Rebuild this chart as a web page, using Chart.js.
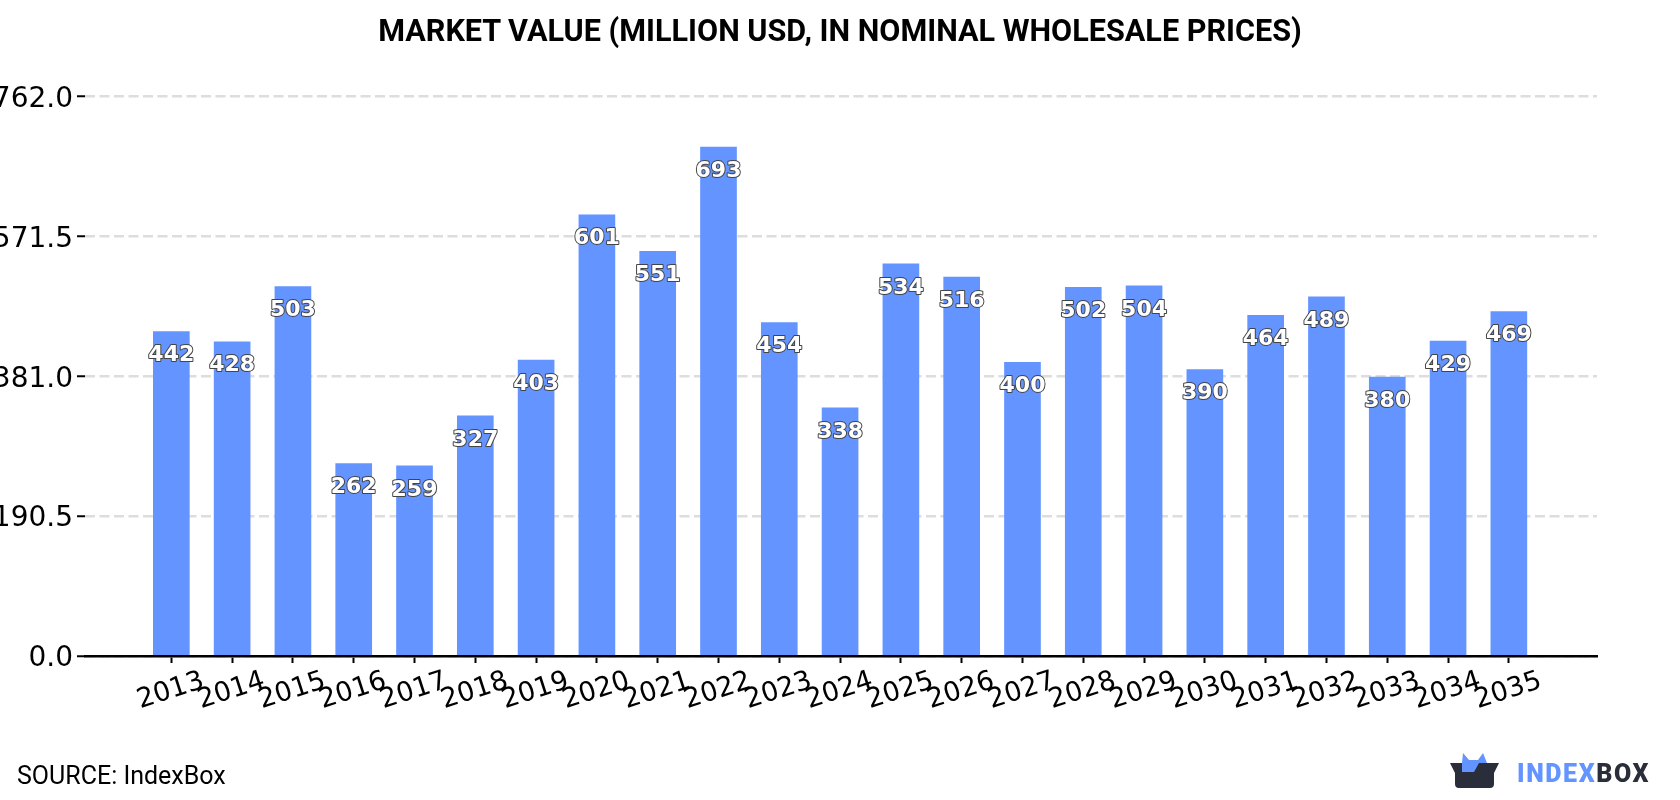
<!DOCTYPE html>
<html>
<head>
<meta charset="utf-8">
<style>
  html, body { margin: 0; padding: 0; background: #fff; }
  #wrap { position: relative; width: 1680px; height: 800px; overflow: hidden; }
  #chart { position: absolute; left: 0; top: 0; }
  #title { position: absolute; left: 0; width: 1680px; top: 12px; text-align: center; font: bold 30.6px Roboto, sans-serif; line-height: 38px; color: #000; }
  #source { position: absolute; left: 17px; top: 761px; font: 25px Roboto, sans-serif; color: #000; line-height: 30px; }
  #logo { position: absolute; left: 1440px; top: 740px; }
</style>
<script src="https://cdn.jsdelivr.net/npm/chart.js@4/dist/chart.umd.min.js"></script>
</head>
<body>
<div id="wrap">
  <canvas id="chart" width="1680" height="800"></canvas>
  <div id="title">MARKET VALUE (MILLION USD, IN NOMINAL WHOLESALE PRICES)</div>
  <div id="source">SOURCE: IndexBox</div>
  <svg id="logo" width="240" height="60" viewBox="0 0 240 60">
    <path d="M10 23 L59 23 L54 33 L54 44 Q54 48 50 48 L19 48 Q15 48 15 44 L15 33 Z" fill="#2a2d3a"/>
    <path d="M22 23 L23 13 L29 20 L38 20 L43 13 L47 23 L39 23 L34 32 L22 32 Z" fill="#6394ff"/>
    <text x="77" y="42" font-family="Roboto, sans-serif" font-weight="900" font-size="25" letter-spacing="1.6"><tspan fill="#6394ff">INDEX</tspan><tspan fill="#2a2d3a">BOX</tspan></text>
  </svg>
</div>
<script>
const years = [2013, 2014, 2015, 2016, 2017, 2018, 2019, 2020, 2021, 2022, 2023, 2024,
               2025, 2026, 2027, 2028, 2029, 2030, 2031, 2032, 2033, 2034, 2035];
const marketValue = [442, 428, 503, 262, 259, 327, 403, 601, 551, 693, 454, 338,
                     534, 516, 400, 502, 504, 390, 464, 489, 380, 429, 469];
const yTicks = [0, 190.5, 381, 571.5, 762];

const BAR_BLUE = '#6394ff';

// Writes each value inside the top of its bar: white digits with a dark outline.
const valueLabels = {
  id: 'valueLabels',
  afterDatasetsDraw(chart) {
    const { ctx } = chart;
    const meta = chart.getDatasetMeta(0);
    ctx.save();
    ctx.font = 'bold 22px "DejaVu Sans"';
    ctx.textAlign = 'center';
    ctx.textBaseline = 'middle';
    ctx.lineJoin = 'round';
    meta.data.forEach((bar, i) => {
      const text = String(marketValue[i]);
      ctx.lineWidth = 2;
      ctx.strokeStyle = '#444';
      ctx.strokeText(text, bar.x, bar.y + 24);
      ctx.fillStyle = '#fff';
      ctx.fillText(text, bar.x, bar.y + 24);
    });
    ctx.restore();
  }
};

new Chart(document.getElementById('chart'), {
  type: 'bar',
  data: {
    datasets: [{
      data: years.map((year, i) => ({ x: year, y: marketValue[i] })),
      backgroundColor: BAR_BLUE,
      barThickness: 36
    }]
  },
  options: {
    responsive: false,
    animation: false,
    layout: { padding: { left: 0, right: 83, top: 96.5, bottom: 0 } },
    plugins: {
      legend: { display: false },
      tooltip: { enabled: false },
      title: { display: false }
    },
    scales: {
      x: {
        type: 'linear',
        offset: false,
        min: 2013 - 1.42,
        max: 2035 + 1.45,
        afterBuildTicks(axis) { axis.ticks = years.map(value => ({ value })); },
        afterFit(axis) { axis.height = 144; },
        border: { color: '#000', width: 2.5 },
        grid: { offset: false, drawOnChartArea: false, color: '#000', tickColor: '#000', tickLength: 7, tickWidth: 2 },
        ticks: {
          autoSkip: false,
          minRotation: 18,
          maxRotation: 18,
          labelOffset: 32,
          padding: 2,
          color: '#000',
          font: { family: 'DejaVu Sans', size: 27 },
          callback: value => String(value)
        }
      },
      y: {
        min: 0,
        max: 762,
        afterBuildTicks(axis) { axis.ticks = yTicks.map(value => ({ value })); },
        afterFit(axis) { axis.width = 85; },
        border: { display: false, dash: [10, 4.5] },
        grid: { color: '#ddd', lineWidth: 2.5, tickColor: '#000', tickLength: 8, tickWidth: 2 },
        ticks: {
          padding: 4,
          labelOffset: 3,
          color: '#000',
          font: { family: 'DejaVu Sans', size: 28 },
          callback: value => value.toFixed(1)
        }
      }
    }
  },
  plugins: [valueLabels]
});
</script>
</body>
</html>
